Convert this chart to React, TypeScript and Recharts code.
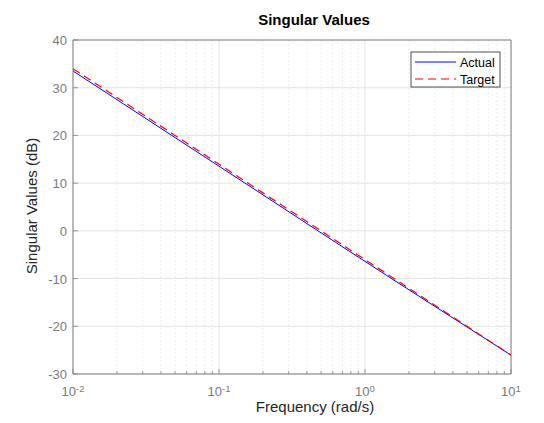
import React from 'react';
import { LineChart, Line, XAxis, YAxis, CartesianGrid, ReferenceLine } from 'recharts';

const frequencies = [0.01, 0.02, 0.05, 0.1, 0.2, 0.5, 1, 2, 5, 10];
const actualDb = [33.5, 27.5, 19.55, 13.55, 7.55, -0.42, -6.4, -12.35, -20.15, -26.05];
const targetDb = [33.98, 27.96, 20.0, 13.98, 7.96, 0.0, -6.02, -12.04, -20.0, -26.02];

const decadeTicks = [0.01, 0.1, 1, 10];
const decadeExponents = ['-2', '-1', '0', '1'];
const minorTicks = [
  0.02, 0.03, 0.04, 0.05, 0.06, 0.07, 0.08, 0.09,
  0.2, 0.3, 0.4, 0.5, 0.6, 0.7, 0.8, 0.9,
  2, 3, 4, 5, 6, 7, 8, 9,
];
const yTicks = [-30, -20, -10, 0, 10, 20, 30, 40];

const seriesNames = ['Actual', 'Target'];

const rows = frequencies.map((w, i) => ({ w, actual: actualDb[i], target: targetDb[i] }));
const allXTicks = [...decadeTicks, ...minorTicks].sort((a, b) => a - b);

const FONT = '"Liberation Sans", Arial, Helvetica, sans-serif';
const AXIS = '#808080';
const TICKTEXT = '#7a7a7a';

const XTick = (props: any) => {
  const { x, y, payload } = props;
  const idx = decadeTicks.indexOf(payload.value);
  const isMajor = idx >= 0;
  return (
    <g>
      <line x1={x} x2={x} y1={y} y2={y - (isMajor ? 5 : 3)} stroke={AXIS} strokeWidth={0.8} />
      {isMajor && (
        <text x={x} y={y + 22} textAnchor="middle" fontSize={13} fill={TICKTEXT} fontFamily={FONT}>
          10
          <tspan dy={-4} fontSize={9.5}>{decadeExponents[idx]}</tspan>
        </text>
      )}
    </g>
  );
};

const YTick = (props: any) => {
  const { x, y, payload } = props;
  return (
    <g>
      <line x1={x} x2={x + 5} y1={y} y2={y} stroke={AXIS} strokeWidth={0.8} />
      <text x={x - 6} y={y + 5} textAnchor="end" fontSize={13} fill={TICKTEXT} fontFamily={FONT}>
        {payload.value}
      </text>
    </g>
  );
};

export default function App() {
  return (
    <div style={{ position: 'absolute', left: 0, top: 0, width: 544, height: 423, background: '#fff' }}>
      <LineChart width={544} height={423} data={rows} margin={{ top: 40, right: 33, bottom: 19, left: 13 }}>
        <CartesianGrid vertical={false} stroke="#e4e4e4" strokeWidth={1} />
        {minorTicks.map((v) => (
          <ReferenceLine key={'m' + v} x={v} stroke="#e0e0e0" strokeWidth={0.8} strokeDasharray="1.5 2.5" />
        ))}
        {decadeTicks.map((v) => (
          <ReferenceLine key={'d' + v} x={v} stroke="#e4e4e4" strokeWidth={1} />
        ))}
        <ReferenceLine y={40} stroke={AXIS} strokeWidth={1} />
        <ReferenceLine x={10} stroke={AXIS} strokeWidth={1} />
        <XAxis
          dataKey="w"
          type="number"
          scale="log"
          domain={[0.01, 10]}
          ticks={allXTicks}
          interval={0}
          allowDataOverflow
          height={30}
          tickSize={0}
          tickMargin={0}
          tickLine={false}
          axisLine={{ stroke: AXIS, strokeWidth: 1 }}
          tick={<XTick />}
        />
        <YAxis
          type="number"
          domain={[-30, 40]}
          ticks={yTicks}
          interval={0}
          allowDataOverflow
          width={60}
          tickSize={0}
          tickMargin={0}
          tickLine={false}
          axisLine={{ stroke: AXIS, strokeWidth: 1 }}
          tick={<YTick />}
        />
        <Line
          dataKey="actual"
          name={seriesNames[0]}
          type="linear"
          stroke="#0000ff"
          strokeWidth={1}
          dot={false}
          isAnimationActive={false}
        />
        <Line
          dataKey="target"
          name={seriesNames[1]}
          type="linear"
          stroke="#ff0000"
          strokeWidth={1.2}
          strokeDasharray="8 5"
          dot={false}
          isAnimationActive={false}
        />
      </LineChart>
      <svg
        width={544}
        height={423}
        style={{ position: 'absolute', left: 0, top: 0, pointerEvents: 'none' }}
        fontFamily={FONT}
      >
        <text x={314} y={25} textAnchor="middle" fontSize={15} fontWeight="bold" fill="#000">
          Singular Values
        </text>
        <text x={315} y={412} textAnchor="middle" fontSize={15} fill="#262626">
          Frequency (rad/s)
        </text>
        <text
          x={0}
          y={0}
          transform="translate(37,206) rotate(-90)"
          textAnchor="middle"
          fontSize={15}
          fill="#262626"
        >
          Singular Values (dB)
        </text>
        <g>
          <rect x={411} y={52} width={89} height={35} fill="#fff" stroke="#262626" strokeWidth={0.8} />
          <line x1={415} x2={456} y1={62} y2={62} stroke="#0000ff" strokeWidth={1} />
          <text x={460} y={66.5} fontSize={12.5} fill="#000">{seriesNames[0]}</text>
          <line x1={415} x2={456} y1={79} y2={79} stroke="#ff0000" strokeWidth={1.2} strokeDasharray="8 5" />
          <text x={460} y={83.5} fontSize={12.5} fill="#000">{seriesNames[1]}</text>
        </g>
      </svg>
    </div>
  );
}
